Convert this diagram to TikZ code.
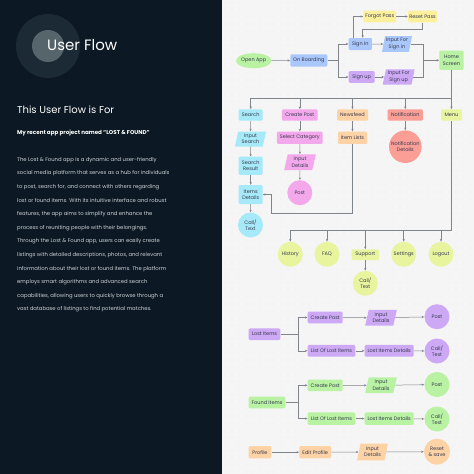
\documentclass[tikz,border=0pt]{standalone}
\usepackage{fontspec}
\setmainfont{Poppins}
\usetikzlibrary{arrows.meta,shapes.geometric}
\definecolor{navy}{HTML}{0C1823}
\definecolor{ring}{HTML}{1C2A35}
\definecolor{dot}{HTML}{56646C}
\definecolor{paratxt}{HTML}{CDD2D7}
\definecolor{panel}{HTML}{F5F5F5}
\definecolor{grid}{HTML}{E6E6E6}
\definecolor{txt}{HTML}{363A4F}
\definecolor{wire}{HTML}{80858C}
\definecolor{cgreen}{HTML}{B8F2A2}
\definecolor{cblue}{HTML}{A9C7FB}
\definecolor{cyellow}{HTML}{FDF09C}
\definecolor{cpurple}{HTML}{CDA8F5}
\definecolor{ccyan}{HTML}{A6E9F8}
\definecolor{cpink}{HTML}{F4A8EC}
\definecolor{corange}{HTML}{FDD2A5}
\definecolor{csalmon}{HTML}{FA9E96}
\definecolor{clime}{HTML}{E8F59E}
\newcommand{\nf}{\fontsize{5}{6.3}\selectfont}
\begin{document}
\begin{tikzpicture}[x=1pt,y=-1pt,
  box/.style={rectangle,rounded corners=1.2pt,inner sep=0pt,align=center,font=\nf,text=txt},
  para/.style={trapezium,trapezium left angle=76,trapezium right angle=104,trapezium stretches=true,inner sep=0pt,align=center,font=\nf,text=txt},
  circ/.style={circle,inner sep=0pt,minimum size=25pt,align=center,font=\nf,text=txt},
  wln/.style={draw=wire,line width=0.5pt},
  arr/.style={draw=wire,line width=0.5pt,-{Stealth[length=2.6pt,width=2.2pt]}},
  ptext/.style={anchor=base west,inner sep=0pt,text=paratxt,font=\fontsize{5.3}{6.5}\selectfont}
]
\useasboundingbox (0,0) rectangle (474,474);
% panels
\fill[navy] (0,0) rectangle (221.5,474);
\fill[panel] (221.5,0) rectangle (474,474);
\foreach \i in {0,...,35}{\foreach \j in {0,...,67}{\fill[grid] (225+7*\i,3+7*\j) circle (0.35);}}
% left panel
\fill[ring] (48,46) circle (32);
\fill[dot] (48,46) circle (16);
\node[anchor=west,inner sep=0pt,text=white,font=\fontsize{15}{18}\selectfont] (title) at (47,45.5) {User Flow};
\node[anchor=west,inner sep=0pt,text=white,font=\fontsize{10}{12}\selectfont] (sub) at (17,110) {This User Flow is For};
\node[anchor=west,inner sep=0pt,text=white,font=\fontsize{5.6}{7}\selectfont\bfseries] (proj) at (17,133) {My recent app project named “LOST \& FOUND”};
\node[ptext] (p1) at (17,161.3) {The Lost \& Found app is a dynamic and user-friendly};
\node[ptext] (p2) at (17,174.9) {social media platform that serves as a hub for individuals};
\node[ptext] (p3) at (17,188.5) {to post, search for, and connect with others regarding};
\node[ptext] (p4) at (17,202.1) {lost or found items. With its intuitive interface and robust};
\node[ptext] (p5) at (17,215.7) {features, the app aims to simplify and enhance the};
\node[ptext] (p6) at (17,229.3) {process of reuniting people with their belongings.};
\node[ptext] (p7) at (17,242.9) {Through the Lost \& Found app, users can easily create};
\node[ptext] (p8) at (17,256.5) {listings with detailed descriptions, photos, and relevant};
\node[ptext] (p9) at (17,270.1) {information about their lost or found items. The platform};
\node[ptext] (p10) at (17,283.7) {employs smart algorithms and advanced search};
\node[ptext] (p11) at (17,297.3) {capabilities, allowing users to quickly browse through a};
\node[ptext] (p12) at (17,310.9) {vast database of listings to find potential matches.};
% ---------- top flow
\node[ellipse,fill=cgreen,inner sep=0pt,minimum width=32pt,minimum height=15pt,font=\nf,text=txt] (openapp) at (253.7,60.7) {Open App};
\node[box,fill=cblue,minimum width=37pt,minimum height=12.4pt] (onb) at (308.8,60.5) {On Boarding};
\node[box,fill=cblue,minimum width=23.3pt,minimum height=12pt] (signin) at (360.3,44) {Sign in};
\node[para,fill=cblue,minimum width=30pt,minimum height=15.6pt] (insi) at (397,44) {Input For\\Sign in};
\node[box,fill=cyellow,minimum width=32.7pt,minimum height=11.6pt] (forgot) at (379.7,16.5) {Forgot Pass};
\node[box,fill=cyellow,minimum width=29pt,minimum height=11.6pt] (reset) at (422.5,16.5) {Reset Pass};
\node[box,fill=cpurple,minimum width=26pt,minimum height=11.7pt] (signup) at (361.7,77) {Sign up};
\node[para,fill=cpurple,minimum width=32pt,minimum height=15.4pt] (insu) at (398.7,77) {Input For\\Sign up};
\node[box,fill=cgreen,minimum width=24.3pt,minimum height=19.3pt] (home) at (451.5,60.3) {Home\\Screen};
\draw[arr] (openapp) -- (onb);
\coordinate (b1) at (338.7,60.5);
\draw[wln] (onb) -- (b1);
\draw[arr] (b1) |- (signin);
\draw[arr] (b1) |- (signup);
\draw[arr] (signin) -- (insi);
\draw[arr] (signup) -- (insu);
\draw[arr] ([xshift=-7pt]signin.north) |- (forgot);
\draw[arr] (forgot) -- (reset);
\draw[arr] (reset.south) -- ++(0,7) -| ([xshift=2.4pt]signin.north);
\coordinate (m1) at (423.3,60.3);
\draw[wln] (insi.east) -| (m1);
\draw[wln] (insu.east) -| (m1);
\draw[arr] (m1) -- (home);
% ---------- second row
\node[box,fill=ccyan,minimum width=24pt,minimum height=11.4pt] (search) at (250.7,115) {Search};
\node[box,fill=cpink,minimum width=35.7pt,minimum height=11.4pt] (cpost) at (299.8,115) {Create Post};
\node[box,fill=corange,minimum width=31pt,minimum height=11.4pt] (newsfeed) at (352.5,115) {Newsfeed};
\node[box,fill=csalmon,minimum width=35.3pt,minimum height=11.4pt] (notif) at (405.3,115) {Notification};
\node[box,fill=clime,minimum width=20.7pt,minimum height=11.4pt] (menu) at (451.5,115) {Menu};
\coordinate (hl) at (250.7,98.3);
\draw[wln] (home.south) |- (hl);
\draw[arr] (hl -| search) -- (search);
\draw[arr] (hl -| cpost) -- (cpost);
\draw[arr] (hl -| newsfeed) -- (newsfeed);
\draw[arr] (hl -| notif) -- (notif);
\draw[arr] (hl -| menu) -- (menu);
\node[para,fill=ccyan,minimum width=31.3pt,minimum height=15pt] (insearch) at (250.5,139) {Input\\Search};
\node[box,fill=ccyan,minimum width=24pt,minimum height=18.3pt] (sresult) at (250.7,165.8) {Search\\Result};
\node[box,fill=ccyan,minimum width=24pt,minimum height=19pt] (idetails) at (250.7,194.5) {Items\\Details};
\node[circ,fill=ccyan] (call1) at (250.5,225) {Call/\\Text};
\draw[arr] (search) -- (insearch);
\draw[arr] (insearch) -- (sresult);
\draw[arr] (sresult) -- (idetails);
\draw[arr] (idetails) -- (call1);
\node[box,fill=cpink,minimum width=45.7pt,minimum height=12.3pt] (selcat) at (299.8,137.8) {Select Category};
\node[para,fill=cpink,minimum width=31.7pt,minimum height=15.7pt] (indet1) at (300,162.2) {Input\\Details};
\node[circ,fill=cpink] (post1) at (299.8,192.7) {Post};
\draw[arr] (cpost) -- (selcat);
\draw[arr] (selcat) -- (indet1);
\draw[arr] (indet1) -- (post1);
\node[box,fill=corange,minimum width=29pt,minimum height=12.3pt] (itemlists) at (352.5,137.8) {Item Lists};
\draw[arr] (newsfeed) -- (itemlists);
\coordinate (c1) at (271.3,213.3);
\draw[arr] (itemlists.south) |- (c1) |- (idetails.east);
\node[circ,fill=csalmon,minimum size=32.6pt] (notifdet) at (405.3,146.7) {Notification\\Details};
\draw[arr] (notif) -- (notifdet);
% ---------- menu row
\node[circ,fill=clime] (history) at (290.3,254.3) {History};
\node[circ,fill=clime] (faq) at (327,254.3) {FAQ};
\node[box,fill=clime,minimum width=27.3pt,minimum height=10.7pt] (support) at (365.3,254.7) {Support};
\node[circ,fill=clime] (settings) at (403.7,254.3) {Settings};
\node[circ,fill=clime] (logout) at (441,254.3) {Logout};
\node[circ,fill=clime] (call2) at (365.3,283.3) {Call/\\Text};
\coordinate (ml) at (290.3,230);
\draw[wln] (menu.south) |- (ml);
\draw[arr] (ml -| history) -- (history);
\draw[arr] (ml -| faq) -- (faq);
\draw[arr] (ml -| support) -- (support);
\draw[arr] (ml -| settings) -- (settings);
\draw[arr] (ml -| logout) -- (logout);
\draw[arr] (support) -- (call2);
% ---------- lost items
\node[box,fill=cpurple,minimum width=31.6pt,minimum height=11.7pt] (lost) at (264.5,334.2) {Lost Items};
\node[box,fill=cpurple,minimum width=35pt,minimum height=11.6pt] (lcp) at (325.2,317.5) {Create Post};
\node[para,fill=cpurple,minimum width=31.7pt,minimum height=15.7pt] (lind) at (381,317.8) {Input\\Details};
\node[circ,fill=cpurple] (lpost) at (437,316.7) {Post};
\node[box,fill=cpurple,minimum width=47.6pt,minimum height=11.7pt] (llist) at (331.5,350.8) {List Of Lost Items};
\node[box,fill=cpurple,minimum width=49pt,minimum height=11.7pt] (ldet) at (389.2,350.8) {Lost Items Details};
\node[circ,fill=cpurple] (lcall) at (437,351) {Call/\\Text};
\coordinate (lb) at (298,334.2);
\draw[wln] (lost) -- (lb);
\draw[arr] (lb) |- (lcp);
\draw[arr] (lb) |- (llist);
\draw[arr] (lcp) -- (lind);
\draw[arr] (lind) -- (lpost);
\draw[arr] (llist) -- (ldet);
\draw[arr] (ldet) -- (lcall);
% ---------- found items
\node[box,fill=cgreen,minimum width=36.6pt,minimum height=11.6pt] (found) at (267,402.5) {Found Items};
\node[box,fill=cgreen,minimum width=35pt,minimum height=11.6pt] (fcp) at (325.2,385.3) {Create Post};
\node[para,fill=cgreen,minimum width=31.7pt,minimum height=15.7pt] (find) at (381,385.3) {Input\\Details};
\node[circ,fill=cgreen] (fpost) at (437,384.5) {Post};
\node[box,fill=cgreen,minimum width=47.6pt,minimum height=12.3pt] (flist) at (331.5,418.6) {List Of Lost Items};
\node[box,fill=cgreen,minimum width=49pt,minimum height=12.3pt] (fdet) at (389.2,418.6) {Lost Items Details};
\node[circ,fill=cgreen] (fcall) at (437,419) {Call/\\Text};
\coordinate (fb) at (298,402.5);
\draw[wln] (found) -- (fb);
\draw[arr] (fb) |- (fcp);
\draw[arr] (fb) |- (flist);
\draw[arr] (fcp) -- (find);
\draw[arr] (find) -- (fpost);
\draw[arr] (flist) -- (fdet);
\draw[arr] (fdet) -- (fcall);
% ---------- profile
\node[box,fill=corange,minimum width=22.6pt,minimum height=12.3pt] (profile) at (260,452.2) {Profile};
\node[box,fill=corange,minimum width=31.7pt,minimum height=12.3pt] (edit) at (315.2,452.2) {Edit Profile};
\node[para,fill=corange,minimum width=31pt,minimum height=16.7pt] (pind) at (372.5,452) {Input\\Details};
\node[circ,fill=corange,minimum size=26pt] (rsave) at (437,451.7) {Reset\\\& save};
\draw[arr] (profile) -- (edit);
\draw[arr] (edit) -- (pind);
\draw[arr] (pind) -- (rsave);
\end{tikzpicture}
\end{document}
